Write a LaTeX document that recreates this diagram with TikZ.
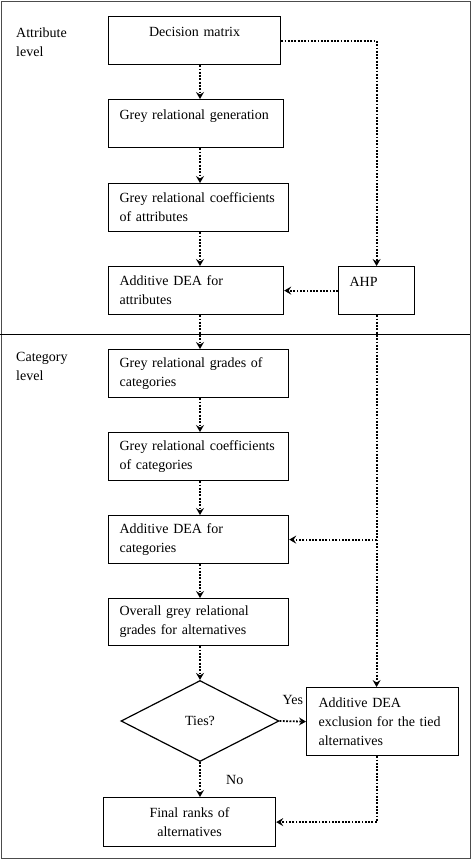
\documentclass[tikz,border=0pt]{standalone}
\usepackage{fontspec}
\setmainfont{Liberation Serif}
\usetikzlibrary{arrows.meta,shapes.geometric,positioning}

\begin{document}
\begin{tikzpicture}[x=1pt, y=-1pt,
    font=\fontsize{14}{19}\selectfont,
    box/.style={draw, line width=1.2pt, rectangle, anchor=north west,
                inner xsep=11pt, inner ysep=0pt, minimum height=48pt, align=left},
    decision/.style={draw, line width=1.2pt, diamond, inner sep=0pt,
                minimum width=158pt, minimum height=81pt},
    flow/.style={line width=1.8pt, dash pattern=on 1.8pt off 1.5pt,
                -{Stealth[length=7pt,width=8pt,inset=2.5pt]}},
    level/.style={anchor=north west, inner sep=0pt, align=left}]
  \useasboundingbox (0,0) rectangle (474,863);
  \draw[black!70, line width=1pt] (1,1) rectangle (470,858);
  \draw[line width=0.8pt] (0,334) -- (470,334);

  \node[level] (attr) at (16,28)  {Attribute\\level};
  \node[level] (cat)  at (16,352) {Category\\level};

  \node[box, text width=150pt, align=center] (dm)    at (108,16)  {Decision matrix\\[-7pt] \strut};
  \node[box, text width=153pt]               (grg)   at (108,99)  {Grey relational generation\\[-7pt] \strut};
  \node[box, text width=158pt]               (grca)  at (108,183) {Grey relational coefficients\\of attributes};
  \node[box, text width=153pt]               (adea)  at (108,266) {Additive DEA for\\attributes};
  \node[box, text width=54pt]                (ahp)   at (338,266) {AHP\\[-7pt] \strut};
  \node[box, text width=158pt]               (grgc)  at (108,349) {Grey relational grades of\\categories};
  \node[box, text width=158pt]               (grcc)  at (108,432) {Grey relational coefficients\\of categories};
  \node[box, text width=158pt]               (adeac) at (108,515) {Additive DEA for\\categories};
  \node[box, text width=158pt, minimum height=47pt] (ogr) at (108,598) {Overall grey relational\\grades for alternatives};
  \node[decision]                            (ties)  at (200,721) {Ties?};
  \node[box, text width=128pt, inner xsep=12pt, minimum height=68pt] (excl) at (306,687)
       {Additive DEA\\exclusion for the tied\\alternatives};
  \node[box, text width=150pt, align=center, minimum height=49pt] (fin) at (103,797)
       {Final ranks of\\alternatives};

  \coordinate (spine) at (200,0);

  \path[flow] (dm.south -| spine)    edge (grg.north -| spine)
              (grg.south -| spine)   edge (grca.north -| spine)
              (grca.south -| spine)  edge (adea.north -| spine)
              (adea.south -| spine)  edge (grgc.north -| spine)
              (grgc.south -| spine)  edge (grcc.north -| spine)
              (grcc.south -| spine)  edge (adeac.north -| spine)
              (adeac.south -| spine) edge (ogr.north -| spine)
              (ogr.south -| spine)   edge (ties.north)
              (ahp.west)             edge (adea.east)
              (ahp.south)            edge (ahp.south |- excl.north)
              (ahp.south |- adeac.east) edge (adeac.east)
              (ties.east)            edge node[above=12pt] {Yes} (excl.west)
              (ties.south)           edge node[right=22pt] {No}  (ties.south |- fin.north)
  ;
  \draw[flow] (dm.east) -| (ahp.north);
  \draw[flow] (ahp.south |- excl.south) |- (fin.east);
\end{tikzpicture}
\end{document}
